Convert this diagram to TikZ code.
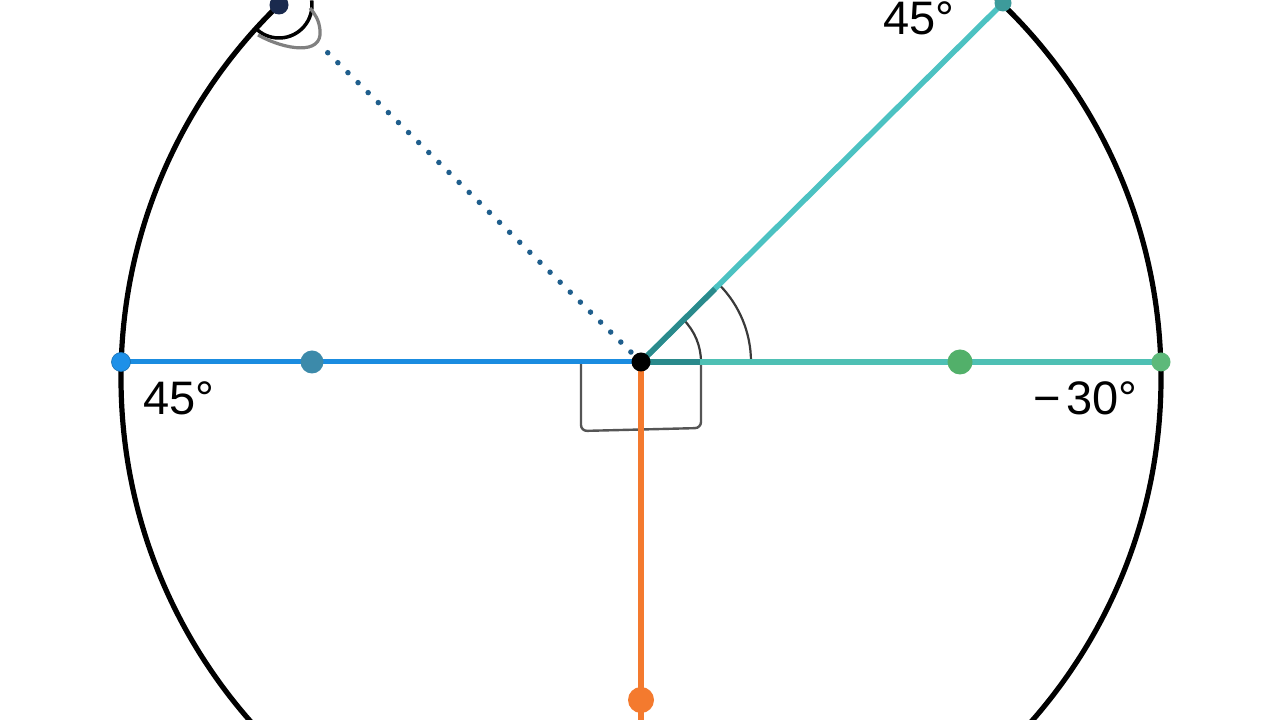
\documentclass[tikz,border=0pt]{standalone}
\usepackage{fontspec}
\setmainfont{Liberation Sans}
\definecolor{cblue}{HTML}{1A8CE0}
\definecolor{cbluept}{HTML}{1E90E8}
\definecolor{csteel}{HTML}{3C8AAA}
\definecolor{cteal}{HTML}{4EC0B4}
\definecolor{ctealdiag}{HTML}{4CC2C2}
\definecolor{cdarkteal}{HTML}{2A8A8C}
\definecolor{cgreen}{HTML}{52B06A}
\definecolor{cgreenend}{HTML}{5DB97A}
\definecolor{corange}{HTML}{F47A2E}
\definecolor{cdots}{HTML}{1F5E8C}
\definecolor{cnavy}{HTML}{1A2A4E}
\definecolor{carc}{HTML}{3A3A3A}
\definecolor{cmark}{HTML}{555555}
\begin{document}
\begin{tikzpicture}[x=1pt,y=1pt,
  dot/.style={circle,inner sep=0pt,minimum size=#1},
  lbl/.style={anchor=base west,inner sep=0pt,font=\fontsize{47}{56}\selectfont},
  anglearc/.style={draw=carc,line width=2.2pt},
  rightmark/.style={draw=cmark,line width=2.4pt}]
\useasboundingbox (0,0) rectangle (1280,720);
\fill[white] (0,0) rectangle (1280,720);
% coordinates
\coordinate (C) at (641,342);
\coordinate (O) at (641,358);
\coordinate (L) at (121,358);
\coordinate (R) at (1161,358);
\coordinate (B1) at (312,358);
\coordinate (G) at (960,358);
\coordinate (T) at (1003,717);
\coordinate (N) at (279,715);
\coordinate (P) at (641,20);
\coordinate (Pend) at (641,0);
\coordinate (D) at (326,669);
\coordinate (Hd) at (700,358);
\coordinate (Td) at (715,431);
% circle
\draw[line width=5.2pt,black] (C) circle (520);
% right-angle mark
\draw[rightmark,rounded corners=6pt] (581,358) -- (581,289) -- (701,292) -- (701,358);
% angle arcs
\draw[anglearc] (O) ++(60,0) arc (0:45:60);
\draw[anglearc] (O) ++(110,0) arc (0:45:110);
% lines
\draw[cblue,line width=5pt] (L) -- (O);
\draw[cteal,line width=5.2pt] (O) -- (R);
\draw[cdarkteal,line width=5.2pt] (O) -- (Hd);
\draw[ctealdiag,line width=5.5pt] (O) -- (T);
\draw[cdarkteal,line width=5.5pt] (O) -- (Td);
\draw[corange,line width=5.5pt] (O) -- (Pend);
\draw[cdots,line width=5.5pt,line cap=round,dash pattern=on 0pt off 14.2pt] (O) -- (D);
% top-left marks
\draw[black,line width=3.5pt] (N) ++(-131:33) arc (-131:8:33);
\draw[gray,line width=3.2pt] (258,685) .. controls (285,670) and (323,664) .. (320,690) .. controls (319,700) and (315,706) .. (310,712);
% points
\node[dot=19pt,fill=cbluept,draw=cblue!80!black,line width=0.6pt] (nL) at (L) {};
\node[dot=23pt,fill=csteel] (nB1) at (B1) {};
\node[dot=25pt,fill=cgreen] (nG) at (G) {};
\node[dot=19pt,fill=cgreenend] (nR) at (R) {};
\node[dot=26pt,fill=corange] (nP) at (P) {};
\node[dot=19pt,fill=black] (nO) at (O) {};
\node[dot=19pt,fill=cnavy] (nN) at (N) {};
\node[dot=17pt,fill=ctealdiag!80!black] (nT) at (T) {};
% labels
\node[lbl] (l1) at (143,305) {45°};
\node[lbl] (l2) at (883,685) {45°};
\node[lbl] (l3) at (1033,305) {−\kern6pt30°};
\end{tikzpicture}
\end{document}
